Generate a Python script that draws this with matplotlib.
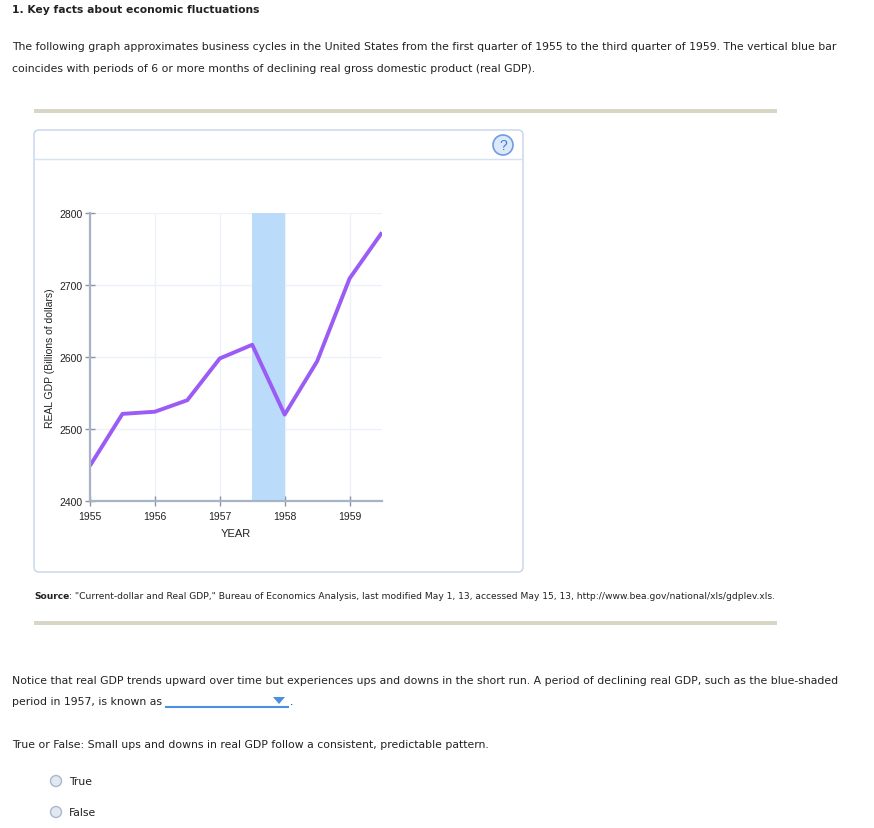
import matplotlib
matplotlib.use("Agg")
import matplotlib.pyplot as plt
from matplotlib.patches import FancyBboxPatch, Circle, Rectangle, Polygon
from matplotlib.lines import Line2D
from matplotlib.transforms import IdentityTransform

# ---- data ----
years = [1955.0, 1955.5, 1956.0, 1956.5, 1957.0, 1957.5, 1958.0, 1958.5, 1959.0, 1959.5]
gdp = [2449, 2521, 2524, 2540, 2598, 2617, 2520, 2594, 2709, 2773]
recession = [1957.5, 1958.0]
xticks = [1955, 1956, 1957, 1958, 1959]
yticks = [2400, 2500, 2600, 2700, 2800]

W, H = 874, 829
fig = plt.figure(figsize=(W / 100, H / 100), dpi=100)
fig.patch.set_facecolor("white")
ID = IdentityTransform()
FS = 7.8


def px(x, y):
    return x, H - y


def ftext(x, y, s, **kw):
    kw.setdefault("family", "DejaVu Sans")
    kw.setdefault("fontsize", FS)
    kw.setdefault("color", "#222222")
    kw.setdefault("va", "center")
    return fig.text(x / W, 1 - y / H, s, **kw)


# ---- header text ----
ftext(12, 10, "1. Key facts about economic fluctuations", fontweight="bold", fontsize=7.75)
ftext(12, 47, "The following graph approximates business cycles in the United States from the first quarter of 1955 to the third quarter of 1959. The vertical blue bar")
ftext(12, 69, "coincides with periods of 6 or more months of declining real gross domestic product (real GDP).")

# separator bars
for yy in (111.5, 623.5):
    fig.add_artist(Rectangle(px(34, yy + 2), 743, 4, transform=ID,
                             facecolor="#d8d6c4", edgecolor="none", zorder=-2))

# chart box
box = FancyBboxPatch(px(34, 573), 489, 442, boxstyle="round,pad=0,rounding_size=5",
                     transform=ID, facecolor="white", edgecolor="#c5d3ea", linewidth=1, zorder=-2)
fig.add_artist(box)
fig.add_artist(Line2D([35, 522], [H - 160, H - 160], transform=ID, color="#d6e2f4", linewidth=1, zorder=-1))
fig.add_artist(Circle(px(503, 146), 10, transform=ID, facecolor="#dce9fb",
                      edgecolor="#6e9de2", linewidth=1.2, zorder=-1))
ftext(503, 146.5, "?", ha="center", fontsize=10, color="#3d7ad6", family="Liberation Sans")

# ---- axes ----
ax = fig.add_axes([90 / W, 1 - 502 / H, (382 - 90) / W, (502 - 214) / H])
ax.set_zorder(2)
ax.set_facecolor("none")
ax.axvspan(recession[0], recession[1], color="#bbdbfb", zorder=1, linewidth=0)
ax.plot(years, gdp, color="#9a5cf4", linewidth=2.8, zorder=3, solid_capstyle="butt")
ax.set_xlim(1955, 1959.5)
ax.set_ylim(2400, 2800)
ax.set_xticks(xticks)
ax.set_yticks(yticks)
ax.set_xticklabels([str(t) for t in xticks], family="Liberation Sans", fontsize=7.5, color="#222222")
ax.set_yticklabels([str(t) for t in yticks], family="Liberation Sans", fontsize=7.5, color="#222222")
ax.grid(True, color="#eef0fa", linewidth=1, zorder=0)
ax.set_axisbelow(True)
for s in ("top", "right"):
    ax.spines[s].set_visible(False)
for s in ("left", "bottom"):
    ax.spines[s].set_color("#a8b3c8")
    ax.spines[s].set_linewidth(1.6)
    ax.spines[s].set_zorder(4)
ax.tick_params(axis="both", direction="inout", length=7, width=1, color="#8a94a8", pad=2)
ax.tick_params(axis="x", pad=4)
ax.set_xlabel("YEAR", family="Liberation Sans", fontsize=8, color="#222222", labelpad=5)
ax.set_ylabel("REAL GDP (Billions of dollars)", family="Liberation Sans", fontsize=7.5,
              color="#222222", labelpad=3)

# ---- source ----
fig.canvas.draw()
r = fig.canvas.get_renderer()
SFS = 6.6
t1 = ftext(34, 597, "Source", fontsize=SFS, fontweight="bold")
bb = t1.get_window_extent(r)
fig.text(bb.x1 / W, 1 - 597 / H,
         ': "Current-dollar and Real GDP," Bureau of Economics Analysis, last modified May 1, 13, accessed May 15, 13, http://www.bea.gov/national/xls/gdplev.xls.',
         family="DejaVu Sans", fontsize=SFS, color="#222222", va="center")

# ---- question text ----
ftext(12, 681, "Notice that real GDP trends upward over time but experiences ups and downs in the short run. A period of declining real GDP, such as the blue-shaded")
ftext(12, 702, "period in 1957, is known as")
fig.add_artist(Line2D([166, 288], [H - 708, H - 708], transform=ID, color="#4a8fe0", linewidth=1.5))
fig.add_artist(Polygon([px(273, 698), px(285, 698), px(279, 705)], closed=True, transform=ID,
                       facecolor="#4a8fe0", edgecolor="none"))
ftext(290, 702, ".")

ftext(12, 745, "True or False: Small ups and downs in real GDP follow a consistent, predictable pattern.")

for yy, lab in ((782, "True"), (813, "False")):
    fig.add_artist(Circle(px(56, yy), 5.5, transform=ID, facecolor="#e2e8f2",
                          edgecolor="#aab8cc", linewidth=1))
    ftext(69, yy, lab)

fig.savefig("out.png", dpi=100)
